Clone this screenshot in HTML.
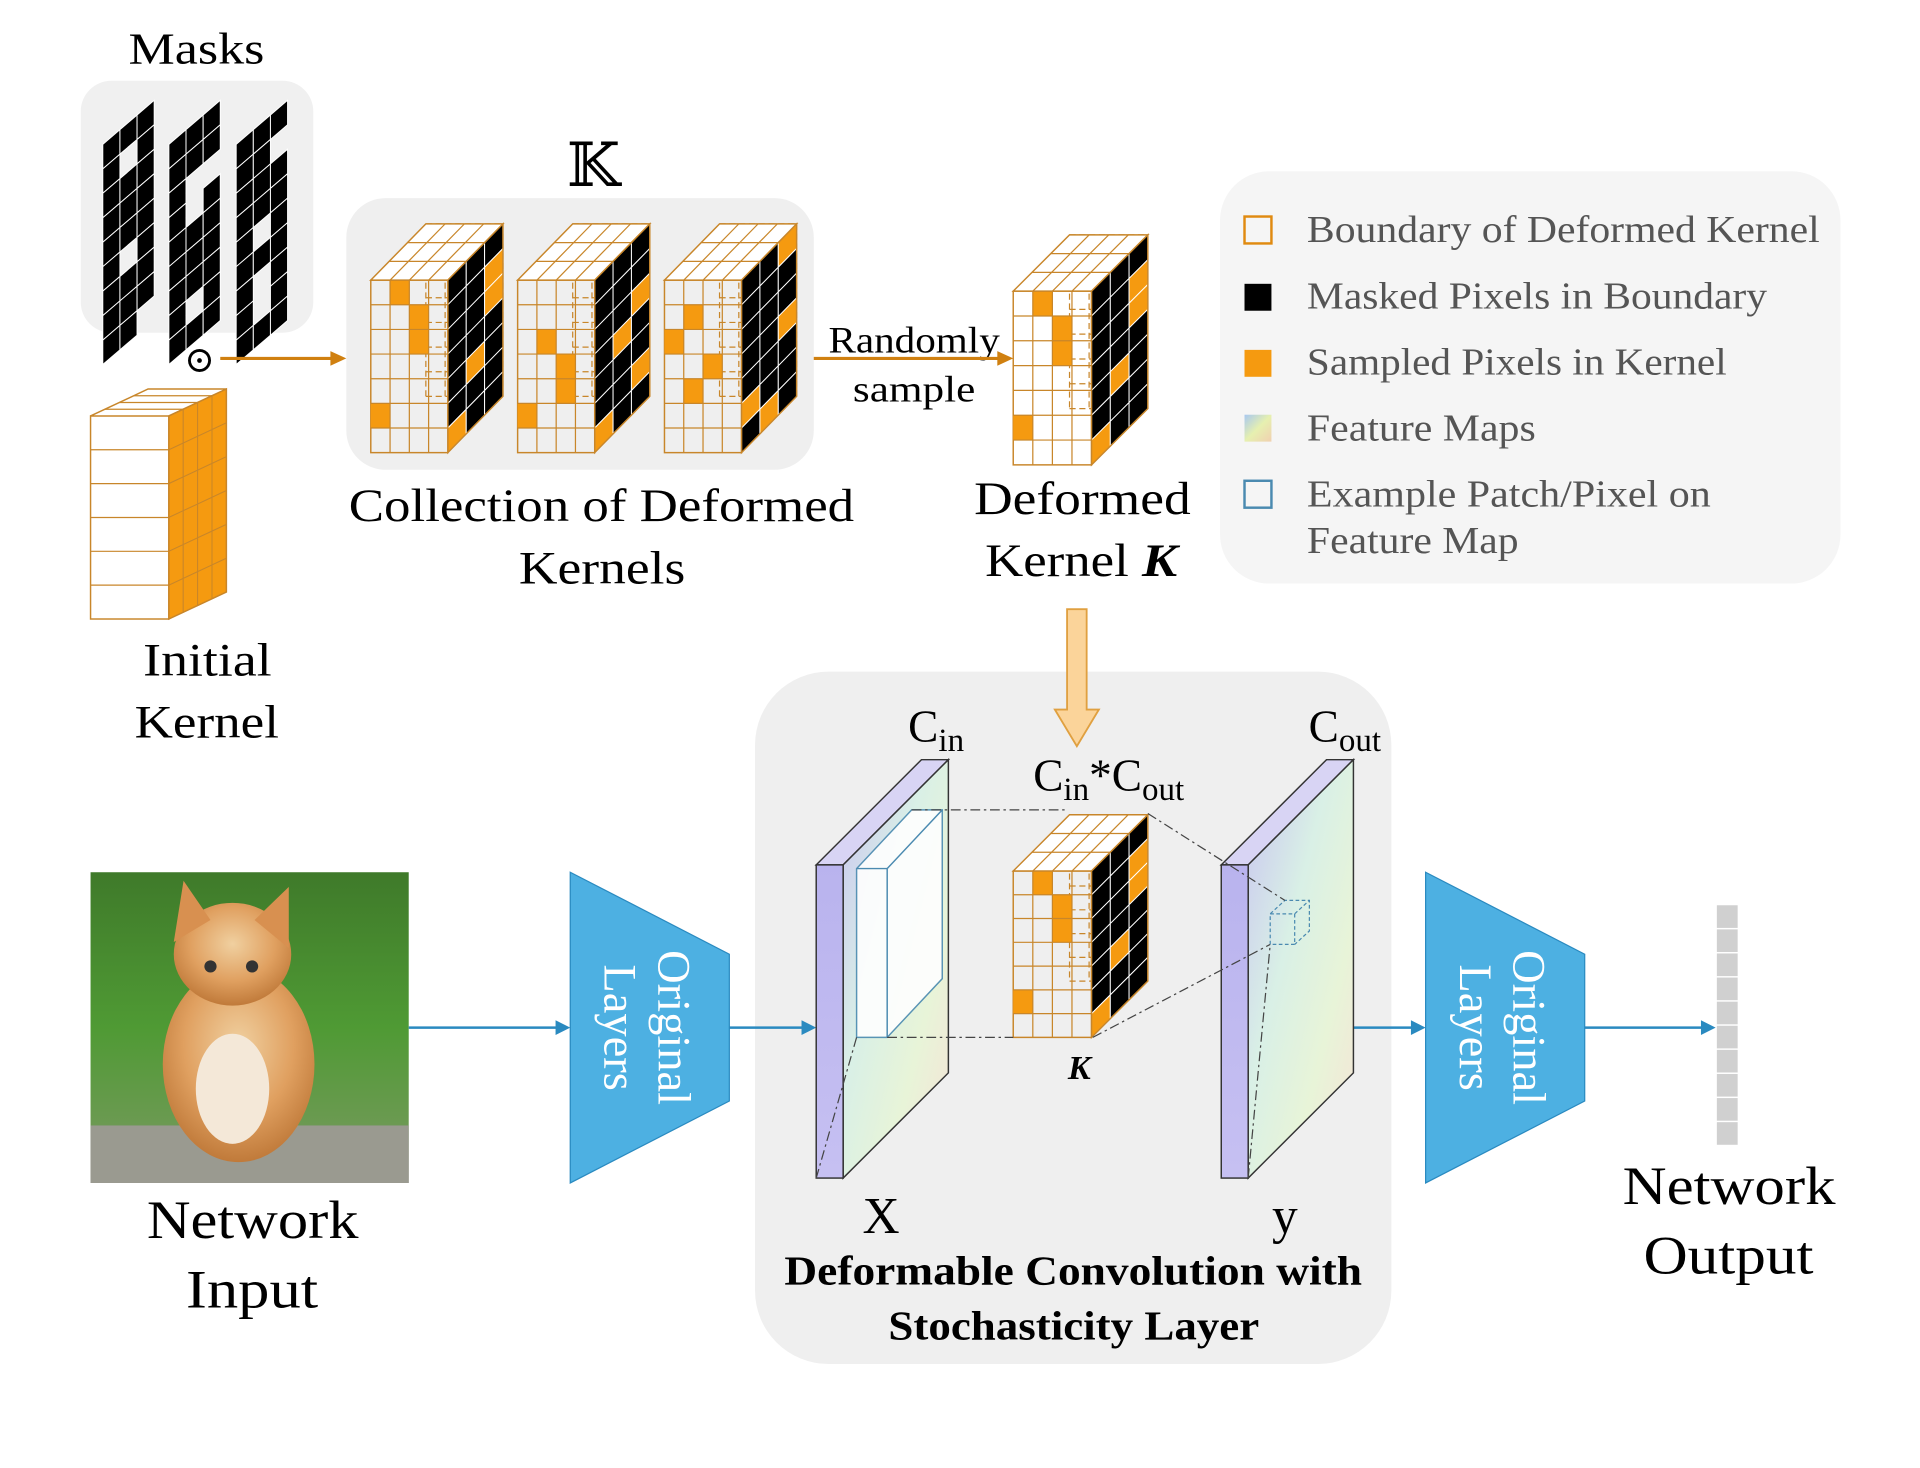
<!DOCTYPE html>
<html><head><meta charset="utf-8"><style>
html,body{margin:0;padding:0;background:#fff}
svg{display:block}
text{font-family:"Liberation Serif","DejaVu Serif",serif}
</style></head><body>
<svg id="s" xmlns="http://www.w3.org/2000/svg" width="1920" height="1468" viewBox="0 0 1569 1200" preserveAspectRatio="none">
<defs>
<linearGradient id="fm" x1="0" y1="0" x2="1" y2="1">
<stop offset="0" stop-color="#c8c4f0"/><stop offset="0.4" stop-color="#d9f0e6"/><stop offset="0.7" stop-color="#e8f4d8"/><stop offset="1" stop-color="#f6e2d6"/>
</linearGradient>
<linearGradient id="fm2" x1="0" y1="0" x2="0" y2="1">
<stop offset="0" stop-color="#b9b3ee"/><stop offset="1" stop-color="#c6c0f2"/>
</linearGradient>
<linearGradient id="lg" x1="0" y1="0" x2="1" y2="1">
<stop offset="0" stop-color="#a8c8f0"/><stop offset="0.5" stop-color="#e6f0b0"/><stop offset="1" stop-color="#f0d0b0"/>
</linearGradient>
<linearGradient id="grass" x1="0" y1="0" x2="0" y2="1">
<stop offset="0" stop-color="#3f7a2a"/><stop offset="0.5" stop-color="#4f9a34"/><stop offset="0.8" stop-color="#6a9a50"/><stop offset="1" stop-color="#8a8a80"/>
</linearGradient>
<radialGradient id="cat" cx="0.5" cy="0.4" r="0.6">
<stop offset="0" stop-color="#f0d0a0"/><stop offset="0.6" stop-color="#e0a060"/><stop offset="1" stop-color="#c07a3a"/>
</radialGradient>
</defs>

<rect x="66" y="66" width="190" height="206" rx="25" fill="#f0f0f0"/>
<rect x="283" y="162" width="382" height="222" rx="32" fill="#efefef"/>
<rect x="997" y="140" width="507" height="337" rx="40" fill="#f5f5f5"/>
<rect x="617" y="549" width="520" height="566" rx="60" fill="#efefef"/>

<g id="masks"></g>
<g id="kern"></g>

<g lengthAdjust="spacingAndGlyphs">
<text x="105" y="52" font-size="36" textLength="111" lengthAdjust="spacingAndGlyphs">Masks</text>
<text x="163" y="304" font-size="30" text-anchor="middle">⊙</text>
<text x="117" y="552" font-size="38" textLength="105" lengthAdjust="spacingAndGlyphs">Initial</text>
<text x="110" y="603" font-size="38" textLength="118" lengthAdjust="spacingAndGlyphs">Kernel</text>
<text x="485" y="152" font-size="50" text-anchor="middle" font-family="DejaVu Sans">𝕂</text>
<text x="285" y="426" font-size="38" textLength="413" lengthAdjust="spacingAndGlyphs">Collection of Deformed</text>
<text x="424" y="477" font-size="38" textLength="136" lengthAdjust="spacingAndGlyphs">Kernels</text>
<text x="677" y="288" font-size="30" textLength="140" lengthAdjust="spacingAndGlyphs">Randomly</text>
<text x="697" y="328" font-size="30" textLength="100" lengthAdjust="spacingAndGlyphs">sample</text>
<text x="796" y="420" font-size="38" textLength="177" lengthAdjust="spacingAndGlyphs">Deformed</text>
<text x="805" y="471" font-size="38" textLength="157" lengthAdjust="spacingAndGlyphs">Kernel <tspan font-weight="bold" font-style="italic">K</tspan></text>
</g>
<line x1="180" y1="293" x2="272" y2="293" stroke="#d08010" stroke-width="2.5"/>
<polygon points="283,293 270,287 270,299" fill="#d08010"/>
<line x1="665" y1="293" x2="816" y2="293" stroke="#d08010" stroke-width="2.5"/>
<polygon points="828,293 815,287 815,299" fill="#d08010"/>

<rect x="1017" y="177" width="22" height="22" fill="none" stroke="#e08a10" stroke-width="2"/>
<rect x="1017" y="232" width="22" height="22" fill="#000"/>
<rect x="1017" y="286" width="22" height="22" fill="#f59a10"/>
<rect x="1017" y="339" width="22" height="22" fill="url(#lg)"/>
<rect x="1017" y="393" width="22" height="22" fill="none" stroke="#4a8ab0" stroke-width="2"/>
<g font-size="31" fill="#555">
<text x="1068" y="198" textLength="419" lengthAdjust="spacingAndGlyphs">Boundary of Deformed Kernel</text>
<text x="1068" y="252" textLength="376" lengthAdjust="spacingAndGlyphs">Masked Pixels in Boundary</text>
<text x="1068" y="306" textLength="343" lengthAdjust="spacingAndGlyphs">Sampled Pixels in Kernel</text>
<text x="1068" y="360" textLength="187" lengthAdjust="spacingAndGlyphs">Feature Maps</text>
<text x="1068" y="414" textLength="330" lengthAdjust="spacingAndGlyphs">Example Patch/Pixel on</text>
<text x="1068" y="452" textLength="173" lengthAdjust="spacingAndGlyphs">Feature Map</text>
</g>

<polygon points="872,498 888,498 888,580 898,580 880,610 862,580 872,580" fill="#fbd49a" stroke="#e0a040" stroke-width="1.5"/>

<rect x="74" y="713" width="260" height="254" fill="url(#grass)"/>
<rect x="74" y="920" width="260" height="47" fill="#9a9a90"/>
<ellipse cx="195" cy="870" rx="62" ry="80" fill="url(#cat)"/>
<ellipse cx="190" cy="780" rx="48" ry="42" fill="url(#cat)"/>
<polygon points="142,770 150,720 172,752" fill="#d89050"/>
<polygon points="208,752 236,725 236,775" fill="#d89050"/>
<ellipse cx="190" cy="890" rx="30" ry="45" fill="#f4e8d8"/>
<circle cx="172" cy="790" r="5" fill="#333"/><circle cx="206" cy="790" r="5" fill="#333"/>
<text x="120" y="1012" font-size="44" textLength="173" lengthAdjust="spacingAndGlyphs">Network</text>
<text x="152" y="1069" font-size="44" textLength="108" lengthAdjust="spacingAndGlyphs">Input</text>

<polygon points="466,713 596,780 596,900 466,967" fill="#4db0e2" stroke="#2a8ac0" stroke-width="1"/>
<polygon points="1165,713 1295,780 1295,900 1165,967" fill="#4db0e2" stroke="#2a8ac0" stroke-width="1"/>
<g font-size="38" fill="#fff">
<text transform="translate(530,840) rotate(90)" text-anchor="middle" x="0" y="-8">Original</text>
<text transform="translate(490,840) rotate(90)" text-anchor="middle" x="0" y="-4">Layers</text>
<text transform="translate(1229,840) rotate(90)" text-anchor="middle" x="0" y="-8">Original</text>
<text transform="translate(1189,840) rotate(90)" text-anchor="middle" x="0" y="-4">Layers</text>
</g>
<g stroke="#2a8ac0" stroke-width="2">
<line x1="334" y1="840" x2="456" y2="840"/>
<line x1="596" y1="840" x2="657" y2="840"/>
<line x1="1106" y1="840" x2="1155" y2="840"/>
<line x1="1295" y1="840" x2="1392" y2="840"/>
</g>
<g fill="#2a8ac0">
<polygon points="466,840 454,834 454,846"/>
<polygon points="667,840 655,834 655,846"/>
<polygon points="1165,840 1153,834 1153,846"/>
<polygon points="1402,840 1390,834 1390,846"/>
</g>

<polygon points="667,707 753,621 775,621 689,707" fill="#d8d4f4" stroke="#333" stroke-width="1.2"/>
<polygon points="689,707 775,621 775,877 689,963" fill="url(#fm)" stroke="#333" stroke-width="1.2"/>
<rect x="667" y="707" width="22" height="256" fill="url(#fm2)" stroke="#333" stroke-width="1.2"/>
<polygon points="700,710 745,662 770,662 770,800 725,848 700,848" fill="#fff" stroke="#4a8ab0" stroke-width="1.2" opacity="0.9"/>
<line x1="725" y1="710" x2="770" y2="662" stroke="#4a8ab0" stroke-width="1.2"/>
<line x1="725" y1="710" x2="725" y2="848" stroke="#4a8ab0" stroke-width="1.2"/>
<line x1="700" y1="710" x2="725" y2="710" stroke="#4a8ab0" stroke-width="1.2"/>
<polygon points="998,707 1084,621 1106,621 1020,707" fill="#d8d4f4" stroke="#333" stroke-width="1.2"/>
<polygon points="1020,707 1106,621 1106,877 1020,963" fill="url(#fm)" stroke="#333" stroke-width="1.2"/>
<rect x="998" y="707" width="22" height="256" fill="url(#fm2)" stroke="#333" stroke-width="1.2"/>
<g fill="none" stroke="#4a8ab0" stroke-width="1" stroke-dasharray="3,2">
<rect x="1038" y="747" width="20" height="25"/>
<polyline points="1038,747 1050,736 1070,736 1070,761 1058,772"/>
<line x1="1058" y1="747" x2="1070" y2="736"/>
</g>
<g stroke="#444" stroke-width="1" stroke-dasharray="8,3,2,3" fill="none">
<line x1="745" y1="662" x2="873" y2="662"/>
<line x1="725" y1="848" x2="828" y2="848"/>
<line x1="938" y1="665" x2="1050" y2="736"/>
<line x1="893" y1="848" x2="1038" y2="772"/>
<line x1="700" y1="848" x2="667" y2="963"/>
<line x1="1020" y1="963" x2="1038" y2="772"/>
</g>
<text x="765" y="606" font-size="37" text-anchor="middle">C<tspan font-size="27" dy="8">in</tspan></text>
<text x="1099" y="606" font-size="37" text-anchor="middle">C<tspan font-size="27" dy="8">out</tspan></text>
<text x="906" y="646" font-size="37" text-anchor="middle">C<tspan font-size="27" dy="8">in</tspan><tspan dy="-8">*C</tspan><tspan font-size="27" dy="8">out</tspan></text>
<text x="882" y="882" font-size="28" text-anchor="middle" font-weight="bold" font-style="italic">K</text>
<text x="720" y="1008" font-size="42" text-anchor="middle">X</text>
<text x="1050" y="1008" font-size="42" text-anchor="middle">y</text>
<text x="641" y="1050" font-size="34" font-weight="bold" textLength="472" lengthAdjust="spacingAndGlyphs">Deformable Convolution with</text>
<text x="726" y="1095" font-size="34" font-weight="bold" textLength="303" lengthAdjust="spacingAndGlyphs">Stochasticity Layer</text>

<g id="out"></g>
<text x="1326" y="984" font-size="44" textLength="174" lengthAdjust="spacingAndGlyphs">Network</text>
<text x="1343" y="1041" font-size="44" textLength="139" lengthAdjust="spacingAndGlyphs">Output</text>
</svg>
<script>
var NS="http://www.w3.org/2000/svg";
function el(p,t,a){var e=document.createElementNS(NS,t);for(var k in a)e.setAttribute(k,a[k]);p.appendChild(e);return e;}
var K=document.getElementById('kern');
var OR="#c8862a",FO="#f59a10";
function cube(x,y,w,h,dx,dy,nc,nr,nd,pat,initial){
  var g=el(K,'g',{});
  var cw=w/nc,rh=h/nr;
  if(!initial){
   for(var i=0;i<=nr;i++) el(g,'line',{x1:x+dx,y1:y-dy+i*rh,x2:x+w+dx,y2:y-dy+i*rh,stroke:OR,'stroke-width':1,'stroke-dasharray':'5,3'});
   for(var j=0;j<=nc;j++) el(g,'line',{x1:x+dx+j*cw,y1:y-dy,x2:x+dx+j*cw,y2:y-dy+h,stroke:OR,'stroke-width':1,'stroke-dasharray':'5,3'});
  }
  el(g,'rect',{x:x,y:y,width:w,height:h,fill:initial?'#fff':'none',stroke:OR,'stroke-width':1.2});
  if(pat&&pat.front) pat.front.forEach(function(c){el(g,'rect',{x:x+c[0]*cw,y:y+c[1]*rh,width:cw,height:rh,fill:FO});});
  for(var i=1;i<nr;i++) el(g,'line',{x1:x,y1:y+i*rh,x2:x+w,y2:y+i*rh,stroke:OR,'stroke-width':1});
  if(!initial) for(var j=1;j<nc;j++) el(g,'line',{x1:x+j*cw,y1:y,x2:x+j*cw,y2:y+h,stroke:OR,'stroke-width':1});
  el(g,'polygon',{points:[x,y,x+dx,y-dy,x+w+dx,y-dy,x+w,y].join(','),fill:'#fff',stroke:OR,'stroke-width':1.2});
  for(var k=1;k<nd;k++){var f=k/nd;el(g,'line',{x1:x+f*dx,y1:y-f*dy,x2:x+w+f*dx,y2:y-f*dy,stroke:OR,'stroke-width':1});}
  for(var j=1;j<nc;j++) el(g,'line',{x1:x+j*cw,y1:y,x2:x+j*cw+dx,y2:y-dy,stroke:OR,'stroke-width':1});
  for(var k=0;k<nd;k++)for(var i=0;i<nr;i++){
    var f0=k/nd,f1=(k+1)/nd,X=x+w,Y=y;
    var col=initial?FO:((pat&&pat.right&&pat.right.indexOf(k+','+i)>=0)?FO:'#000');
    el(g,'polygon',{points:[X+f0*dx,Y-f0*dy+i*rh,X+f1*dx,Y-f1*dy+i*rh,X+f1*dx,Y-f1*dy+(i+1)*rh,X+f0*dx,Y-f0*dy+(i+1)*rh].join(','),fill:col,stroke:initial?OR:'#fff','stroke-width':0.8});
  }
  el(g,'polygon',{points:[x+w,y,x+w+dx,y-dy,x+w+dx,y-dy+h,x+w,y+h].join(','),fill:'none',stroke:OR,'stroke-width':1.2});
}
cube(74,340,64,166,47,22,1,6,4,null,true);
var p1={front:[[0,5],[2,1],[2,2],[1,0]],right:['0,6','2,1','2,2','1,4']};
var p2={front:[[0,5],[1,2],[2,3],[2,4]],right:['1,3','2,2','2,5','0,6']};
var p3={front:[[0,2],[1,4],[2,3],[1,1]],right:['0,5','2,0','2,3','1,6']};
cube(303,229,63,141,45,46,4,7,3,p1);
cube(423,229,63,141,45,46,4,7,3,p2);
cube(543,229,63,141,45,46,4,7,3,p3);
cube(828,238,64,142,46,46,4,7,3,p1);
cube(828,712,64,136,46,46,4,7,3,p1);
var M=document.getElementById('masks');
function mask(x0,y0,pattern){
  for(var r=0;r<9;r++)for(var c=0;c<3;c++){
    if(pattern[r][c]=='1'){var w=14,h=20,sk=12;var x=x0+c*w,y=y0+r*h-c*sk;
    el(M,'polygon',{points:[x,y,x+w,y-sk,x+w,y-sk+h,x,y+h].join(','),fill:'#000',stroke:'#fff','stroke-width':0.8});}
  }
}
mask(84,118,['111','101','111','111','111','101','111','111','110']);
mask(138,118,['111','111','100','101','111','111','111','101','111']);
mask(193,118,['111','110','111','111','101','111','101','101','111']);
var O=document.getElementById('out');
for(var i=0;i<10;i++) el(O,'rect',{x:1403,y:740+i*19.7,width:17,height:18.5,fill:'#d0d0d0'});
</script>
</body></html>
